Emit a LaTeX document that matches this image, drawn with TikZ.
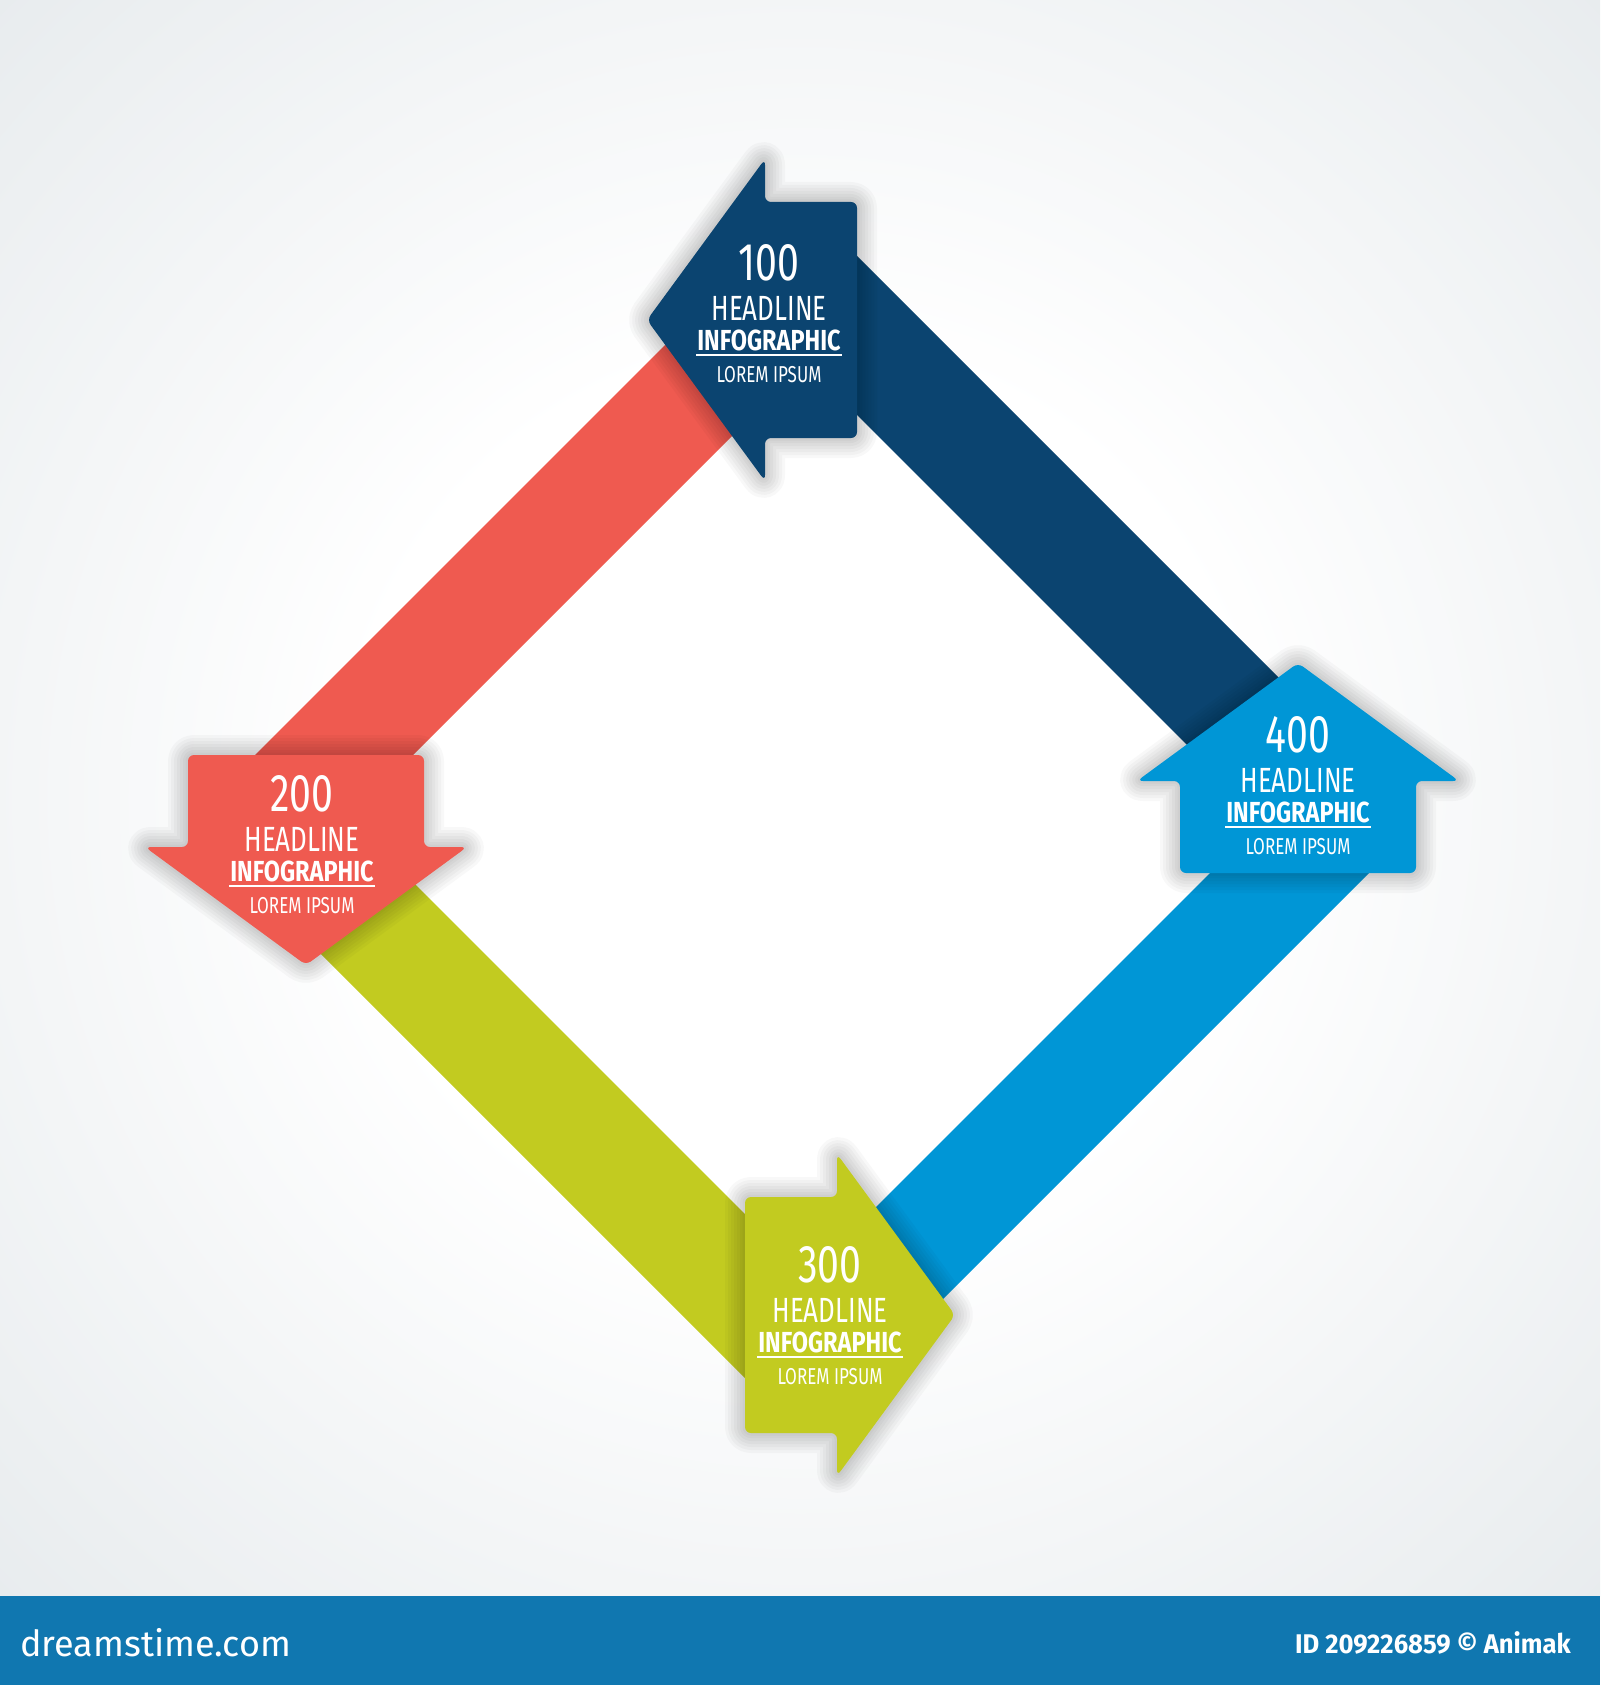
\documentclass[tikz,border=0pt]{standalone}
\usepackage{fontspec}
\newfontfamily\condN[FakeStretch=0.74]{Fira Sans}
\newfontfamily\condf[FakeStretch=0.81]{Fira Sans}
\newfontfamily\credf[FakeStretch=0.95]{Fira Sans}
\newfontfamily\regf{Fira Sans}
\definecolor{cDark}{HTML}{0B4470}
\definecolor{cRed}{HTML}{EF5A50}
\definecolor{cGreen}{HTML}{C2CB20}
\definecolor{cBlue}{HTML}{0096D6}
\definecolor{cBar}{HTML}{1077B0}
\definecolor{bgA}{RGB}{225,230,233}
\definecolor{bgB}{RGB}{208,215,220}
\pgfdeclareradialshading{bgshade}{\pgfpoint{0bp}{0bp}}{color(0bp)=(white); color(14bp)=(white); color(42bp)=(bgA); color(72bp)=(bgB)}
\tikzset{
  ribbon/.style={draw=none},
  arrowbox/.style={draw=none, rounded corners=6pt},
  shadowpath/.style={draw=black, draw opacity=0.028, fill=none, line join=round, rounded corners=6pt},
  numtxt/.style={inner sep=0pt, text=white, font=\condN\fontsize{53}{53}\selectfont},
  headtxt/.style={inner sep=0pt, text=white, font=\condN\fontsize{35}{35}\selectfont},
  infotxt/.style={inner sep=0pt, text=white, font=\condf\bfseries\fontsize{29}{29}\selectfont},
  loremtxt/.style={inner sep=0pt, text=white, font=\condN\fontsize{23}{23}\selectfont},
  uline/.style={white, line width=2.5pt},
  bartxt/.style={inner sep=0pt, text=white}
}
\newcommand\infoblock[4]{%
  \node[numtxt] (n#1) at (#2,{#3-77}) {#4};
  \node[headtxt] (h#1) at (#2,{#3-32}) {HEADLINE};
  \node[infotxt] (i#1) at (#2,#3) {INFOGRAPHIC};
  \draw[uline] ({#2-73},{#3+15}) -- ({#2+73},{#3+15});
  \node[loremtxt] (l#1) at (#2,{#3+35}) {LOREM IPSUM};
}
\newcommand\arrowdraw[2]{%
  \foreach \w in {40,34,28,22,16,10,5}{\draw[shadowpath, line width=\w pt] #2;}
  \fill[#1, arrowbox] #2;
}
\begin{document}
\begin{tikzpicture}[x=1pt, y=-1pt]
\useasboundingbox (0,0) rectangle (1600,1685);
% background
\shade[shading=bgshade] (0,0) rectangle (1600,1596);
\fill[cBar] (0,1596) rectangle (1600,1685);
\node[bartxt, anchor=west, font=\regf\fontsize{36}{36}\selectfont] (logo) at (20,1643) {dreamstime.com};
\node[bartxt, anchor=east, font=\credf\bfseries\fontsize{27}{27}\selectfont] (credit) at (1571,1643) {ID 209226859 © Animak};
% ribbons
\fill[cRed, ribbon] (720.5,289.5) -- (799.5,368.5) -- (324,844) -- (245,765) -- cycle;
\fill[cGreen, ribbon] (340.5,809.5) -- (833,1302) -- (751,1384) -- (258.5,891.5) -- cycle;
\fill[cBlue, ribbon] (841.5,1241.5) -- (1294,789) -- (1373.5,868.5) -- (921,1321) -- cycle;
\fill[cDark, ribbon] (1310.5,709.5) -- (850.5,249.5) -- (771,329) -- (1231,789) -- cycle;
% arrows
\arrowdraw{cDark}{(647,320) -- (765,159) -- (765,202) -- (857,202) -- (857,438) -- (765,438) -- (765,481) -- cycle}
\arrowdraw{cRed}{(306,965) -- (145,847) -- (188,847) -- (188,755) -- (424,755) -- (424,847) -- (467,847) -- cycle}
\arrowdraw{cGreen}{(955,1315) -- (837,1154) -- (837,1197) -- (745,1197) -- (745,1433) -- (837,1433) -- (837,1476) -- cycle}
\arrowdraw{cBlue}{(1298,663) -- (1459,781) -- (1416,781) -- (1416,873) -- (1180,873) -- (1180,781) -- (1137,781) -- cycle}
% texts
\infoblock{100}{769}{340}{100}
\infoblock{200}{302}{871}{200}
\infoblock{300}{830}{1342}{300}
\infoblock{400}{1298}{812}{400}
\end{tikzpicture}
\end{document}
